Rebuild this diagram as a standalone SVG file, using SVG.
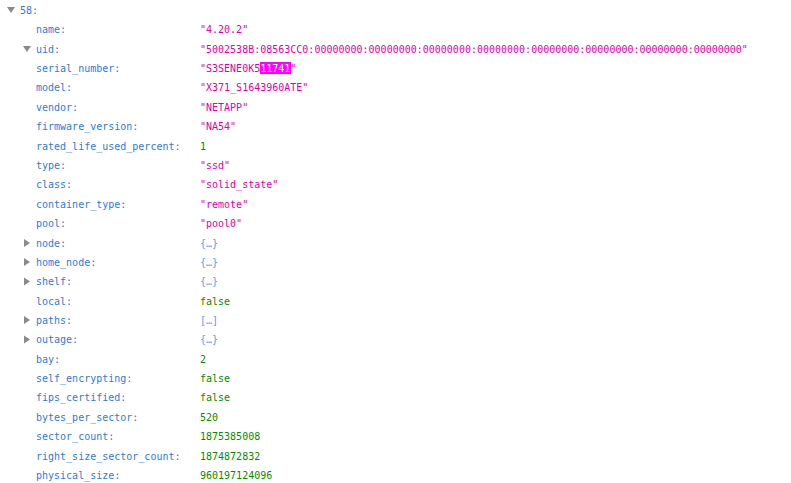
<svg xmlns="http://www.w3.org/2000/svg" width="791" height="483" viewBox="0 0 791 483">
<style>
text{font-family:"DejaVu Sans Mono","Liberation Mono",monospace;font-size:10px}
.k{fill:#2f7bd6}.s{fill:#dd00a9}.n{fill:#058b00}.o{fill:#5aa0e6}
.tri{fill:#8a8a8a}
</style>
<rect width="791" height="483" fill="#fff"/>
<g id="root"><polygon class="tri" points="7,7 15,7 11,13"/><text class="k" x="20" y="13.5">58:</text></g>
<g id="rows">
<text class="k" x="36" y="33">name:</text><text class="s" x="200" y="33">"4.20.2"</text>
<polygon class="tri" points="23,46 31,46 27,52"/>
<text class="k" x="36" y="52.5">uid:</text><text class="s" x="200" y="52.5">"5002538B:08563CC0:00000000:00000000:00000000:00000000:00000000:00000000:00000000:00000000"</text>
<rect x="260" y="62" width="31" height="12" fill="#ff00ff"/>
<text class="k" x="36" y="72">serial_number:</text><text class="s" x="200" y="72">"S3SENE0K5<tspan fill="#fff">11741</tspan>"</text>
<text class="k" x="36" y="91">model:</text><text class="s" x="200" y="91">"X371_S1643960ATE"</text>
<text class="k" x="36" y="110.5">vendor:</text><text class="s" x="200" y="110.5">"NETAPP"</text>
<text class="k" x="36" y="130">firmware_version:</text><text class="s" x="200" y="130">"NA54"</text>
<text class="k" x="36" y="149.5">rated_life_used_percent:</text><text class="n" x="200" y="149.5">1</text>
<text class="k" x="36" y="169">type:</text><text class="s" x="200" y="169">"ssd"</text>
<text class="k" x="36" y="188">class:</text><text class="s" x="200" y="188">"solid_state"</text>
<text class="k" x="36" y="207.5">container_type:</text><text class="s" x="200" y="207.5">"remote"</text>
<text class="k" x="36" y="227">pool:</text><text class="s" x="200" y="227">"pool0"</text>
<polygon class="tri" points="24,239 24,247 30,243"/>
<text class="k" x="36" y="246.5">node:</text><text class="o" x="200" y="246.5">{…}</text>
<polygon class="tri" points="24,258 24,266 30,262"/>
<text class="k" x="36" y="265.5">home_node:</text><text class="o" x="200" y="265.5">{…}</text>
<polygon class="tri" points="24,277.5 24,285.5 30,281.5"/>
<text class="k" x="36" y="285">shelf:</text><text class="o" x="200" y="285">{…}</text>
<text class="k" x="36" y="304.5">local:</text><text class="n" x="200" y="304.5">false</text>
<polygon class="tri" points="24,316 24,324 30,320"/>
<text class="k" x="36" y="324">paths:</text><text class="o" x="200" y="324">[…]</text>
<polygon class="tri" points="24,335.5 24,343.5 30,339.5"/>
<text class="k" x="36" y="343">outage:</text><text class="o" x="200" y="343">{…}</text>
<text class="k" x="36" y="362.5">bay:</text><text class="n" x="200" y="362.5">2</text>
<text class="k" x="36" y="382">self_encrypting:</text><text class="n" x="200" y="382">false</text>
<text class="k" x="36" y="401">fips_certified:</text><text class="n" x="200" y="401">false</text>
<text class="k" x="36" y="420.5">bytes_per_sector:</text><text class="n" x="200" y="420.5">520</text>
<text class="k" x="36" y="440">sector_count:</text><text class="n" x="200" y="440">1875385008</text>
<text class="k" x="36" y="459.5">right_size_sector_count:</text><text class="n" x="200" y="459.5">1874872832</text>
<text class="k" x="36" y="479">physical_size:</text><text class="n" x="200" y="479">960197124096</text>
</g>
</svg>
